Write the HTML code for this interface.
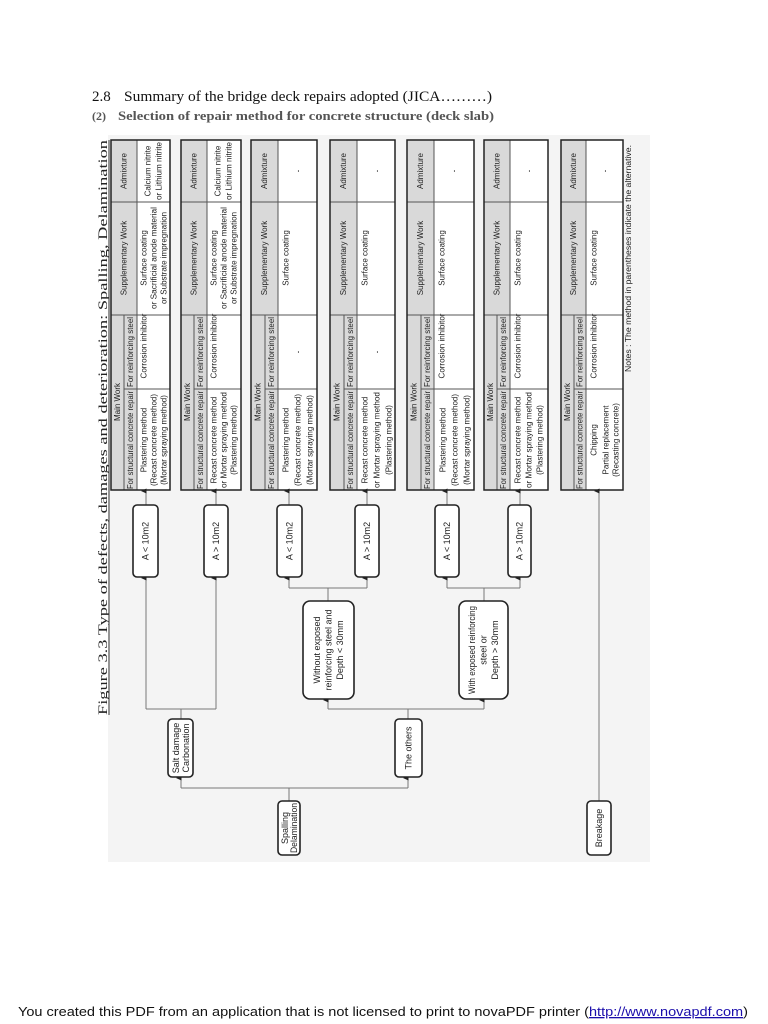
<!DOCTYPE html>
<html><head><meta charset="utf-8"><style>
html,body{margin:0;padding:0;background:#fff;}
svg{display:block;}
.t{font-family:"Liberation Sans",Arial,sans-serif;font-size:8px;fill:#222;}
.f{font-family:"Liberation Sans",Arial,sans-serif;font-size:9px;fill:#222;}
.serif{font-family:"Liberation Serif","Times New Roman",serif;}
.sans{font-family:"Liberation Sans",Arial,sans-serif;}
</style></head><body>
<svg width="768" height="1024" viewBox="0 0 768 1024" xmlns="http://www.w3.org/2000/svg">
<defs>
<marker id="ar" markerWidth="6" markerHeight="6" refX="3" refY="5" orient="auto" markerUnits="userSpaceOnUse">
<path d="M0.5,5.5 L3,0 L5.5,5.5 Z" fill="#222"/></marker>
</defs>
<text x="92" y="101" class="serif" font-size="15" fill="#111">2.8</text>
<text x="124" y="101" class="serif" font-size="15" fill="#111" textLength="368" lengthAdjust="spacingAndGlyphs">Summary of the bridge deck repairs adopted (JICA………)</text>
<text x="92" y="120" class="serif" font-size="12" font-weight="bold" fill="#555">(2)</text>
<text x="118" y="120" class="serif" font-size="12.5" font-weight="bold" fill="#555" textLength="376" lengthAdjust="spacingAndGlyphs">Selection of repair method for concrete structure (deck slab)</text>

<rect x="108" y="135" width="542" height="727" fill="#f4f4f4"/>

<text transform="translate(107,715) rotate(-90)" class="serif" font-size="12.5" fill="#222" textLength="575" lengthAdjust="spacingAndGlyphs">Figure 3.3 Type of defects, damages and deterioration: Spalling, Delamination</text>
<line x1="109" y1="140" x2="109" y2="715" stroke="#333" stroke-width="1"/>

<text transform="translate(631,372) rotate(-90)" class="t" font-size="7.5" textLength="227" lengthAdjust="spacingAndGlyphs">Notes : The method in parentheses indicate the alternative.</text>

<g id="tables" stroke-linecap="square">
<g transform="translate(111,0)">
<rect x="0" y="140" width="59" height="350" fill="#fff"/>
<rect x="0" y="140" width="26" height="350" fill="#d9d9d9"/>
<g stroke="#555" stroke-width="1" fill="none"><line x1="0" y1="202" x2="59" y2="202"/><line x1="0" y1="315" x2="59" y2="315"/><line x1="13" y1="389" x2="59" y2="389"/><line x1="13" y1="315" x2="13" y2="490"/><line x1="26" y1="140" x2="26" y2="490"/></g>
<rect x="0" y="140" width="59" height="350" fill="none" stroke="#222" stroke-width="1.5"/>
<text class="t" text-anchor="middle" dominant-baseline="central" transform="translate(13,171) rotate(-90)">Admixture</text>
<text class="t" text-anchor="middle" dominant-baseline="central" transform="translate(13,258) rotate(-90)">Supplementary Work</text>
<text class="t" text-anchor="middle" dominant-baseline="central" transform="translate(6.5,402) rotate(-90)">Main Work</text>
<text class="t" text-anchor="middle" dominant-baseline="central" transform="translate(19.5,352) rotate(-90)" textLength="70" lengthAdjust="spacingAndGlyphs">For reinforcing steel</text>
<text class="t" text-anchor="middle" dominant-baseline="central" transform="translate(19.5,440) rotate(-90)" textLength="98" lengthAdjust="spacingAndGlyphs">For structural concrete repair</text>
<text class="t" text-anchor="middle" dominant-baseline="central" transform="translate(33,440) rotate(-90)">Plastering method</text>
<text class="t" text-anchor="middle" dominant-baseline="central" transform="translate(43,440) rotate(-90)">(Recast concrete method)</text>
<text class="t" text-anchor="middle" dominant-baseline="central" transform="translate(53,440) rotate(-90)">(Mortar spraying method)</text>
<text class="t" text-anchor="middle" dominant-baseline="central" transform="translate(33,346) rotate(-90)">Corrosion inhibitor</text>
<text class="t" text-anchor="middle" dominant-baseline="central" transform="translate(33,258) rotate(-90)">Surface coating</text>
<text class="t" text-anchor="middle" dominant-baseline="central" transform="translate(43,258) rotate(-90)" textLength="102" lengthAdjust="spacingAndGlyphs">or Sacrificial anode material</text>
<text class="t" text-anchor="middle" dominant-baseline="central" transform="translate(53,258) rotate(-90)">or Substrate impregnation</text>
<text class="t" text-anchor="middle" dominant-baseline="central" transform="translate(37,171) rotate(-90)">Calcium nitrite</text>
<text class="t" text-anchor="middle" dominant-baseline="central" transform="translate(48,171) rotate(-90)" textLength="58" lengthAdjust="spacingAndGlyphs">or Lithium nitrite</text>
</g>
<g transform="translate(181,0)">
<rect x="0" y="140" width="60" height="350" fill="#fff"/>
<rect x="0" y="140" width="26" height="350" fill="#d9d9d9"/>
<g stroke="#555" stroke-width="1" fill="none"><line x1="0" y1="202" x2="60" y2="202"/><line x1="0" y1="315" x2="60" y2="315"/><line x1="13" y1="389" x2="60" y2="389"/><line x1="13" y1="315" x2="13" y2="490"/><line x1="26" y1="140" x2="26" y2="490"/></g>
<rect x="0" y="140" width="60" height="350" fill="none" stroke="#222" stroke-width="1.5"/>
<text class="t" text-anchor="middle" dominant-baseline="central" transform="translate(13,171) rotate(-90)">Admixture</text>
<text class="t" text-anchor="middle" dominant-baseline="central" transform="translate(13,258) rotate(-90)">Supplementary Work</text>
<text class="t" text-anchor="middle" dominant-baseline="central" transform="translate(6.5,402) rotate(-90)">Main Work</text>
<text class="t" text-anchor="middle" dominant-baseline="central" transform="translate(19.5,352) rotate(-90)" textLength="70" lengthAdjust="spacingAndGlyphs">For reinforcing steel</text>
<text class="t" text-anchor="middle" dominant-baseline="central" transform="translate(19.5,440) rotate(-90)" textLength="98" lengthAdjust="spacingAndGlyphs">For structural concrete repair</text>
<text class="t" text-anchor="middle" dominant-baseline="central" transform="translate(33,440) rotate(-90)">Recast concrete method</text>
<text class="t" text-anchor="middle" dominant-baseline="central" transform="translate(43,440) rotate(-90)" textLength="96" lengthAdjust="spacingAndGlyphs">or Mortar spraying method</text>
<text class="t" text-anchor="middle" dominant-baseline="central" transform="translate(53,440) rotate(-90)">(Plastering method)</text>
<text class="t" text-anchor="middle" dominant-baseline="central" transform="translate(33,346) rotate(-90)">Corrosion inhibitor</text>
<text class="t" text-anchor="middle" dominant-baseline="central" transform="translate(33,258) rotate(-90)">Surface coating</text>
<text class="t" text-anchor="middle" dominant-baseline="central" transform="translate(43,258) rotate(-90)" textLength="102" lengthAdjust="spacingAndGlyphs">or Sacrificial anode material</text>
<text class="t" text-anchor="middle" dominant-baseline="central" transform="translate(53,258) rotate(-90)">or Substrate impregnation</text>
<text class="t" text-anchor="middle" dominant-baseline="central" transform="translate(37,171) rotate(-90)">Calcium nitrite</text>
<text class="t" text-anchor="middle" dominant-baseline="central" transform="translate(48,171) rotate(-90)" textLength="58" lengthAdjust="spacingAndGlyphs">or Lithium nitrite</text>
</g>
<g transform="translate(251,0)">
<rect x="0" y="140" width="66" height="350" fill="#fff"/>
<rect x="0" y="140" width="27" height="350" fill="#d9d9d9"/>
<g stroke="#555" stroke-width="1" fill="none"><line x1="0" y1="202" x2="66" y2="202"/><line x1="0" y1="315" x2="66" y2="315"/><line x1="14" y1="389" x2="66" y2="389"/><line x1="14" y1="315" x2="14" y2="490"/><line x1="27" y1="140" x2="27" y2="490"/></g>
<rect x="0" y="140" width="66" height="350" fill="none" stroke="#222" stroke-width="1.5"/>
<text class="t" text-anchor="middle" dominant-baseline="central" transform="translate(13.5,171) rotate(-90)">Admixture</text>
<text class="t" text-anchor="middle" dominant-baseline="central" transform="translate(13.5,258) rotate(-90)">Supplementary Work</text>
<text class="t" text-anchor="middle" dominant-baseline="central" transform="translate(7,402) rotate(-90)">Main Work</text>
<text class="t" text-anchor="middle" dominant-baseline="central" transform="translate(20.5,352) rotate(-90)" textLength="70" lengthAdjust="spacingAndGlyphs">For reinforcing steel</text>
<text class="t" text-anchor="middle" dominant-baseline="central" transform="translate(20.5,440) rotate(-90)" textLength="98" lengthAdjust="spacingAndGlyphs">For structural concrete repair</text>
<text class="t" text-anchor="middle" dominant-baseline="central" transform="translate(35,440) rotate(-90)">Plastering method</text>
<text class="t" text-anchor="middle" dominant-baseline="central" transform="translate(47,440) rotate(-90)">(Recast concrete method)</text>
<text class="t" text-anchor="middle" dominant-baseline="central" transform="translate(59,440) rotate(-90)">(Mortar spraying method)</text>
<text class="t" text-anchor="middle" dominant-baseline="central" transform="translate(47,352) rotate(-90)">-</text>
<text class="t" text-anchor="middle" dominant-baseline="central" transform="translate(35,258) rotate(-90)">Surface coating</text>
<text class="t" text-anchor="middle" dominant-baseline="central" transform="translate(47,171) rotate(-90)">-</text>
</g>
<g transform="translate(330,0)">
<rect x="0" y="140" width="65" height="350" fill="#fff"/>
<rect x="0" y="140" width="27" height="350" fill="#d9d9d9"/>
<g stroke="#555" stroke-width="1" fill="none"><line x1="0" y1="202" x2="65" y2="202"/><line x1="0" y1="315" x2="65" y2="315"/><line x1="14" y1="389" x2="65" y2="389"/><line x1="14" y1="315" x2="14" y2="490"/><line x1="27" y1="140" x2="27" y2="490"/></g>
<rect x="0" y="140" width="65" height="350" fill="none" stroke="#222" stroke-width="1.5"/>
<text class="t" text-anchor="middle" dominant-baseline="central" transform="translate(13.5,171) rotate(-90)">Admixture</text>
<text class="t" text-anchor="middle" dominant-baseline="central" transform="translate(13.5,258) rotate(-90)">Supplementary Work</text>
<text class="t" text-anchor="middle" dominant-baseline="central" transform="translate(7,402) rotate(-90)">Main Work</text>
<text class="t" text-anchor="middle" dominant-baseline="central" transform="translate(20.5,352) rotate(-90)" textLength="70" lengthAdjust="spacingAndGlyphs">For reinforcing steel</text>
<text class="t" text-anchor="middle" dominant-baseline="central" transform="translate(20.5,440) rotate(-90)" textLength="98" lengthAdjust="spacingAndGlyphs">For structural concrete repair</text>
<text class="t" text-anchor="middle" dominant-baseline="central" transform="translate(35,440) rotate(-90)">Recast concrete method</text>
<text class="t" text-anchor="middle" dominant-baseline="central" transform="translate(47,440) rotate(-90)" textLength="96" lengthAdjust="spacingAndGlyphs">or Mortar spraying method</text>
<text class="t" text-anchor="middle" dominant-baseline="central" transform="translate(59,440) rotate(-90)">(Plastering method)</text>
<text class="t" text-anchor="middle" dominant-baseline="central" transform="translate(47,352) rotate(-90)">-</text>
<text class="t" text-anchor="middle" dominant-baseline="central" transform="translate(35,258) rotate(-90)">Surface coating</text>
<text class="t" text-anchor="middle" dominant-baseline="central" transform="translate(47,171) rotate(-90)">-</text>
</g>
<g transform="translate(407,0)">
<rect x="0" y="140" width="67" height="350" fill="#fff"/>
<rect x="0" y="140" width="27" height="350" fill="#d9d9d9"/>
<g stroke="#555" stroke-width="1" fill="none"><line x1="0" y1="202" x2="67" y2="202"/><line x1="0" y1="315" x2="67" y2="315"/><line x1="14" y1="389" x2="67" y2="389"/><line x1="14" y1="315" x2="14" y2="490"/><line x1="27" y1="140" x2="27" y2="490"/></g>
<rect x="0" y="140" width="67" height="350" fill="none" stroke="#222" stroke-width="1.5"/>
<text class="t" text-anchor="middle" dominant-baseline="central" transform="translate(13.5,171) rotate(-90)">Admixture</text>
<text class="t" text-anchor="middle" dominant-baseline="central" transform="translate(13.5,258) rotate(-90)">Supplementary Work</text>
<text class="t" text-anchor="middle" dominant-baseline="central" transform="translate(7,402) rotate(-90)">Main Work</text>
<text class="t" text-anchor="middle" dominant-baseline="central" transform="translate(20.5,352) rotate(-90)" textLength="70" lengthAdjust="spacingAndGlyphs">For reinforcing steel</text>
<text class="t" text-anchor="middle" dominant-baseline="central" transform="translate(20.5,440) rotate(-90)" textLength="98" lengthAdjust="spacingAndGlyphs">For structural concrete repair</text>
<text class="t" text-anchor="middle" dominant-baseline="central" transform="translate(36,440) rotate(-90)">Plastering method</text>
<text class="t" text-anchor="middle" dominant-baseline="central" transform="translate(48,440) rotate(-90)">(Recast concrete method)</text>
<text class="t" text-anchor="middle" dominant-baseline="central" transform="translate(60,440) rotate(-90)">(Mortar spraying method)</text>
<text class="t" text-anchor="middle" dominant-baseline="central" transform="translate(35,346) rotate(-90)">Corrosion inhibitor</text>
<text class="t" text-anchor="middle" dominant-baseline="central" transform="translate(35,258) rotate(-90)">Surface coating</text>
<text class="t" text-anchor="middle" dominant-baseline="central" transform="translate(47,171) rotate(-90)">-</text>
</g>
<g transform="translate(484,0)">
<rect x="0" y="140" width="64" height="350" fill="#fff"/>
<rect x="0" y="140" width="26" height="350" fill="#d9d9d9"/>
<g stroke="#555" stroke-width="1" fill="none"><line x1="0" y1="202" x2="64" y2="202"/><line x1="0" y1="315" x2="64" y2="315"/><line x1="13" y1="389" x2="64" y2="389"/><line x1="13" y1="315" x2="13" y2="490"/><line x1="26" y1="140" x2="26" y2="490"/></g>
<rect x="0" y="140" width="64" height="350" fill="none" stroke="#222" stroke-width="1.5"/>
<text class="t" text-anchor="middle" dominant-baseline="central" transform="translate(13,171) rotate(-90)">Admixture</text>
<text class="t" text-anchor="middle" dominant-baseline="central" transform="translate(13,258) rotate(-90)">Supplementary Work</text>
<text class="t" text-anchor="middle" dominant-baseline="central" transform="translate(6.5,402) rotate(-90)">Main Work</text>
<text class="t" text-anchor="middle" dominant-baseline="central" transform="translate(19.5,352) rotate(-90)" textLength="70" lengthAdjust="spacingAndGlyphs">For reinforcing steel</text>
<text class="t" text-anchor="middle" dominant-baseline="central" transform="translate(19.5,440) rotate(-90)" textLength="98" lengthAdjust="spacingAndGlyphs">For structural concrete repair</text>
<text class="t" text-anchor="middle" dominant-baseline="central" transform="translate(34,440) rotate(-90)">Recast concrete method</text>
<text class="t" text-anchor="middle" dominant-baseline="central" transform="translate(45,440) rotate(-90)" textLength="96" lengthAdjust="spacingAndGlyphs">or Mortar spraying method</text>
<text class="t" text-anchor="middle" dominant-baseline="central" transform="translate(56,440) rotate(-90)">(Plastering method)</text>
<text class="t" text-anchor="middle" dominant-baseline="central" transform="translate(34,346) rotate(-90)">Corrosion inhibitor</text>
<text class="t" text-anchor="middle" dominant-baseline="central" transform="translate(34,258) rotate(-90)">Surface coating</text>
<text class="t" text-anchor="middle" dominant-baseline="central" transform="translate(45,171) rotate(-90)">-</text>
</g>
<g transform="translate(561,0)">
<rect x="0" y="140" width="62" height="350" fill="#fff"/>
<rect x="0" y="140" width="25" height="350" fill="#d9d9d9"/>
<g stroke="#555" stroke-width="1" fill="none"><line x1="0" y1="202" x2="62" y2="202"/><line x1="0" y1="315" x2="62" y2="315"/><line x1="13" y1="389" x2="62" y2="389"/><line x1="13" y1="315" x2="13" y2="490"/><line x1="25" y1="140" x2="25" y2="490"/></g>
<rect x="0" y="140" width="62" height="350" fill="none" stroke="#222" stroke-width="1.5"/>
<text class="t" text-anchor="middle" dominant-baseline="central" transform="translate(12.5,171) rotate(-90)">Admixture</text>
<text class="t" text-anchor="middle" dominant-baseline="central" transform="translate(12.5,258) rotate(-90)">Supplementary Work</text>
<text class="t" text-anchor="middle" dominant-baseline="central" transform="translate(6.5,402) rotate(-90)">Main Work</text>
<text class="t" text-anchor="middle" dominant-baseline="central" transform="translate(19,352) rotate(-90)" textLength="70" lengthAdjust="spacingAndGlyphs">For reinforcing steel</text>
<text class="t" text-anchor="middle" dominant-baseline="central" transform="translate(19,440) rotate(-90)" textLength="98" lengthAdjust="spacingAndGlyphs">For structural concrete repair</text>
<text class="t" text-anchor="middle" dominant-baseline="central" transform="translate(33,440) rotate(-90)" font-size="9">Chipping</text>
<text class="t" text-anchor="middle" dominant-baseline="central" transform="translate(45,440) rotate(-90)">Partial replacement</text>
<text class="t" text-anchor="middle" dominant-baseline="central" transform="translate(55,440) rotate(-90)">(Recasting concrete)</text>
<text class="t" text-anchor="middle" dominant-baseline="central" transform="translate(33,346) rotate(-90)">Corrosion inhibitor</text>
<text class="t" text-anchor="middle" dominant-baseline="central" transform="translate(33,258) rotate(-90)">Surface coating</text>
<text class="t" text-anchor="middle" dominant-baseline="central" transform="translate(44,171) rotate(-90)">-</text>
</g>
</g>

<g stroke="#777" stroke-width="1" fill="none">
<polyline points="289,801 289,788"/>
<polyline points="181,788 408,788"/>
<line x1="181" y1="788" x2="181" y2="778" marker-end="url(#ar)"/>
<line x1="408" y1="788" x2="408" y2="778" marker-end="url(#ar)"/>
<polyline points="181,719 181,709"/>
<polyline points="146,709 216,709"/>
<line x1="146" y1="709" x2="146" y2="578" marker-end="url(#ar)"/>
<line x1="216" y1="709" x2="216" y2="578" marker-end="url(#ar)"/>
<polyline points="408,719 408,709"/>
<polyline points="328,709 484,709"/>
<line x1="328" y1="709" x2="328" y2="700" marker-end="url(#ar)"/>
<line x1="484" y1="709" x2="484" y2="700" marker-end="url(#ar)"/>
<polyline points="328,601 328,588"/>
<polyline points="289,588 367,588"/>
<line x1="289" y1="588" x2="289" y2="578" marker-end="url(#ar)"/>
<line x1="367" y1="588" x2="367" y2="578" marker-end="url(#ar)"/>
<polyline points="484,601 484,588"/>
<polyline points="447,588 520,588"/>
<line x1="447" y1="588" x2="447" y2="578" marker-end="url(#ar)"/>
<line x1="520" y1="588" x2="520" y2="578" marker-end="url(#ar)"/>
<line x1="146" y1="505" x2="146" y2="491" marker-end="url(#ar)"/>
<line x1="216" y1="505" x2="216" y2="491" marker-end="url(#ar)"/>
<line x1="289" y1="505" x2="289" y2="491" marker-end="url(#ar)"/>
<line x1="367" y1="505" x2="367" y2="491" marker-end="url(#ar)"/>
<line x1="447" y1="505" x2="447" y2="491" marker-end="url(#ar)"/>
<line x1="520" y1="505" x2="520" y2="491" marker-end="url(#ar)"/>
<line x1="599" y1="801" x2="599" y2="491" marker-end="url(#ar)"/>
</g>

<g fill="#fff" stroke="#222" stroke-width="1.6">
<rect x="133" y="505" width="25" height="72" rx="4"/>
<rect x="204" y="505" width="24" height="72" rx="4"/>
<rect x="277" y="505" width="25" height="72" rx="4"/>
<rect x="355" y="505" width="24" height="72" rx="4"/>
<rect x="435" y="505" width="24" height="72" rx="4"/>
<rect x="508" y="505" width="23" height="72" rx="4"/>
<rect x="303" y="601" width="51" height="98" rx="7"/>
<rect x="459" y="601" width="49" height="98" rx="7"/>
<rect x="168" y="719" width="25" height="58" rx="4"/>
<rect x="395" y="719" width="27" height="58" rx="4"/>
<rect x="278" y="801" width="22" height="54" rx="4"/>
<rect x="587" y="801" width="24" height="54" rx="4"/>
</g>
<g>
<text class="f" text-anchor="middle" dominant-baseline="central" transform="translate(145.5,541) rotate(-90)">A &lt; 10m2</text>
<text class="f" text-anchor="middle" dominant-baseline="central" transform="translate(216,541) rotate(-90)">A &gt; 10m2</text>
<text class="f" text-anchor="middle" dominant-baseline="central" transform="translate(289.5,541) rotate(-90)">A &lt; 10m2</text>
<text class="f" text-anchor="middle" dominant-baseline="central" transform="translate(367,541) rotate(-90)">A &gt; 10m2</text>
<text class="f" text-anchor="middle" dominant-baseline="central" transform="translate(447,541) rotate(-90)">A &lt; 10m2</text>
<text class="f" text-anchor="middle" dominant-baseline="central" transform="translate(519.5,541) rotate(-90)">A &gt; 10m2</text>
<text class="f" text-anchor="middle" dominant-baseline="central" transform="translate(317,650) rotate(-90)">Without exposed</text>
<text class="f" text-anchor="middle" dominant-baseline="central" transform="translate(328.5,650) rotate(-90)">reinforcing steel  and</text>
<text class="f" text-anchor="middle" dominant-baseline="central" transform="translate(340,650) rotate(-90)">Depth &lt; 30mm</text>
<text class="f" text-anchor="middle" dominant-baseline="central" transform="translate(472,650) rotate(-90)" textLength="88" lengthAdjust="spacingAndGlyphs">With exposed reinforcing</text>
<text class="f" text-anchor="middle" dominant-baseline="central" transform="translate(483.5,650) rotate(-90)">steel  or</text>
<text class="f" text-anchor="middle" dominant-baseline="central" transform="translate(495,650) rotate(-90)">Depth &gt; 30mm</text>
<text class="f" text-anchor="middle" dominant-baseline="central" transform="translate(176,748) rotate(-90)">Salt damage</text>
<text class="f" text-anchor="middle" dominant-baseline="central" transform="translate(186,748) rotate(-90)">Carbonation</text>
<text class="f" text-anchor="middle" dominant-baseline="central" transform="translate(408.5,748) rotate(-90)">The others</text>
<text class="f" text-anchor="middle" dominant-baseline="central" transform="translate(285,828) rotate(-90)">Spalling</text>
<text class="f" text-anchor="middle" dominant-baseline="central" transform="translate(294,828) rotate(-90)" textLength="50" lengthAdjust="spacingAndGlyphs">Delamination</text>
<text class="f" text-anchor="middle" dominant-baseline="central" transform="translate(599,828) rotate(-90)">Breakage</text>
</g>

<text x="18" y="1016" class="sans" font-size="13" fill="#111" textLength="730" lengthAdjust="spacingAndGlyphs">You created this PDF from an application that is not licensed to print to novaPDF printer (<tspan fill="#1a0dab" text-decoration="underline">http://www.novapdf.com</tspan>)</text>
</svg>
</body></html>
